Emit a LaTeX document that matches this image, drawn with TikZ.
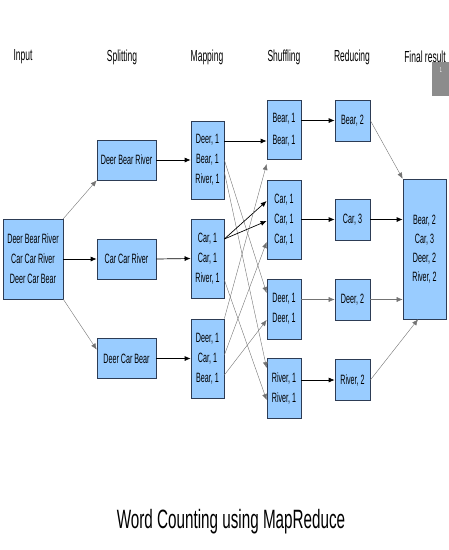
\documentclass[tikz,border=0pt]{standalone}
\usepackage{fontspec}
\setmainfont{Liberation Sans}[FakeStretch=0.53]
\newfontfamily\captionfont{Liberation Sans}[FakeStretch=0.575]
\usetikzlibrary{arrows.meta}
\definecolor{boxblue}{RGB}{153,204,255}
\definecolor{boxline}{RGB}{45,60,85}
\tikzset{x=1pt, y=-1pt,
  every node/.style={align=center},
  wordbox/.style={ % Sets the properties for each word box
    draw=boxline, line width=0.7pt, fill=boxblue, inner sep=0pt,
    font=\fontsize{13.5}{20}\selectfont},
  stage/.style={font=\fontsize{16}{18}\selectfont},
  flow/.style={draw, ->, >={Latex[length=6pt,width=5pt]}, line width=0.7pt},
  thinflow/.style={flow, draw=black!55, line width=0.4pt}}

\begin{document}
\begin{tikzpicture}
  \useasboundingbox (0,0) rectangle (449,550);

  % slide number tab
  \fill[black!45] (432,62) rectangle (449,96);
  \node[text=white, font=\fontsize{7}{8}\selectfont] (slideno) at (441,70) {1};

  % stage titles
  \node[stage] (tinput)  at (23,57)  {Input};
  \node[stage] (tsplit)  at (122,57) {Splitting};
  \node[stage] (tmap)    at (207,57) {Mapping};
  \node[stage] (tshuf)   at (284,57) {Shuffling};
  \node[stage] (treduce) at (352,57) {Reducing};
  \node[stage] (tfinal)  at (425,57) {Final result};

  % input
  \node[wordbox, minimum width=60pt, minimum height=80pt] (inp) at (33,259)
    {Deer Bear River\\Car Car River\\Deer Car Bear};

  % splitting
  \node[wordbox, minimum width=59pt, minimum height=40pt] (sp1) at (126.5,160) {Deer Bear River};
  \node[wordbox, minimum width=59pt, minimum height=40pt] (sp2) at (126.5,259) {Car Car River};
  \node[wordbox, minimum width=59pt, minimum height=40pt] (sp3) at (126.5,358.5) {Deer Car Bear};

  % mapping
  \node[wordbox, minimum width=33pt, minimum height=78pt] (m1) at (207.5,160) {Deer, 1\\Bear, 1\\River, 1};
  \node[wordbox, minimum width=33pt, minimum height=79pt] (m2) at (207.5,258.5) {Car, 1\\Car, 1\\River, 1};
  \node[wordbox, minimum width=33pt, minimum height=79pt] (m3) at (207.5,358.5) {Deer, 1\\Car, 1\\Bear, 1};

  % shuffling
  \node[wordbox, minimum width=34pt, minimum height=59pt, font=\fontsize{13.5}{22}\selectfont] (sBear) at (284,129.5) {Bear, 1\\Bear, 1};
  \node[wordbox, minimum width=34pt, minimum height=79pt] (sCar)   at (284,219.5) {Car, 1\\Car, 1\\Car, 1};
  \node[wordbox, minimum width=34pt, minimum height=60pt] (sDeer)  at (284,309)   {Deer, 1\\Deer, 1};
  \node[wordbox, minimum width=34pt, minimum height=60pt] (sRiver) at (284,388)   {River, 1\\River, 1};

  % reducing
  \node[wordbox, minimum width=35pt, minimum height=41pt] (rBear)  at (352.5,120.5) {Bear, 2};
  \node[wordbox, minimum width=35pt, minimum height=41pt] (rCar)   at (352.5,219.5) {Car, 3};
  \node[wordbox, minimum width=35pt, minimum height=41pt] (rDeer)  at (352.5,299.5) {Deer, 2};
  \node[wordbox, minimum width=35pt, minimum height=41pt] (rRiver) at (352.5,380)   {River, 2};

  % final result
  \node[wordbox, minimum width=43pt, minimum height=140pt, font=\fontsize{13.5}{19}\selectfont] (fin) at (424.5,249)
    {Bear, 2\\Car, 3\\Deer, 2\\River, 2};

  % input -> splitting
  \draw[thinflow] (inp.north east) -- (sp1.south west);
  \draw[flow] (inp.east) -- (sp2.west);
  \draw[thinflow] (inp.south east) -- ([yshift=9pt]sp3.west);

  % splitting -> mapping
  \draw[flow] (sp1.east) -- (m1.west);
  \draw[flow] (sp2.east) -- (m2.west);
  \draw[flow] (sp3.east) -- (m3.west);

  % mapping -> shuffling
  \draw[flow] ([yshift=19pt]m1.east) -- ([yshift=-11.5pt]sBear.west);
  \draw[thinflow] (m1.east) -- ([yshift=16pt]sDeer.west);
  \draw[thinflow] ([yshift=-12pt]m1.east) -- ([yshift=20pt]sRiver.west);
  \draw[flow] ([yshift=19.5pt]m2.east) -- ([yshift=18.5pt]sCar.west);
  \draw[flow] ([yshift=19.5pt]m2.east) -- ([yshift=-1.5pt]sCar.west);
  \draw[thinflow] ([yshift=-21.5pt]m2.east) -- ([yshift=-12pt]sRiver.west);
  \draw[thinflow] (m3.north east) -- ([yshift=-34.5pt]sBear.west);
  \draw[thinflow] ([yshift=3.5pt]m3.east) -- ([yshift=-22.5pt]sCar.west);
  \draw[thinflow] ([yshift=-16.5pt]m3.east) -- ([yshift=-11pt]sDeer.west);

  % shuffling -> reducing
  \draw[flow] (sBear.east |- rBear.west) -- (rBear.west);
  \draw[flow] (sCar.east |- rCar.west) -- (rCar.west);
  \draw[thinflow] (sDeer.east |- rDeer.west) -- (rDeer.west);
  \draw[flow] (sRiver.east |- rRiver.west) -- (rRiver.west);

  % reducing -> final result
  \draw[thinflow] (rBear.east) -- (fin.north west);
  \draw[flow] (rCar.east) -- (fin.west |- rCar.east);
  \draw[thinflow] (rDeer.east) -- (fin.west |- rDeer.east);
  \draw[thinflow] (rRiver.east) -- ([xshift=-6.5pt]fin.south);

  % caption
  \node[font=\captionfont\fontsize{26.5}{30}\selectfont] (caption) at (231,522) {Word Counting using MapReduce};
\end{tikzpicture}
\end{document}
